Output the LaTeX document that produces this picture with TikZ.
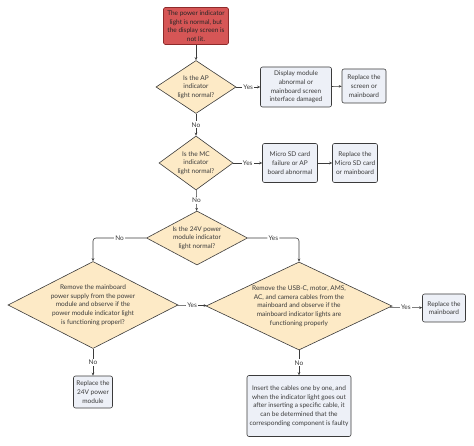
\documentclass[tikz,border=0pt]{standalone}
\usepackage{fontspec}
\setmainfont{Lato}
\usetikzlibrary{shapes.geometric,arrows.meta}
\definecolor{startfill}{HTML}{D65656}
\definecolor{startline}{HTML}{8E2A2A}
\definecolor{askfill}{HTML}{FDEAC6}
\definecolor{dofill}{HTML}{EDF0F7}
\definecolor{ink}{HTML}{3B3B3B}
\begin{document}
\begin{tikzpicture}[x=1pt, y=-1pt, font=\fontsize{6.5}{8.7}\selectfont, text=ink,
    start/.style={draw=startline, fill=startfill, rounded corners=1.5pt, align=center, inner sep=0pt, line width=0.6pt},
    ask/.style={diamond, draw=ink, fill=askfill, align=center, inner sep=0pt, line width=0.6pt},
    todo/.style={draw=ink, fill=dofill, rounded corners=2pt, align=center, inner sep=0pt, line width=0.6pt},
    lbl/.style={fill=white, inner sep=1.2pt},
    flow/.style={draw=ink, line width=0.6pt, -{Stealth[length=3pt,width=2.6pt]}}]
        \useasboundingbox (0,0) rectangle (474,446);

        % top of the chart
        \node[start, minimum width=65, minimum height=37, text=black!85] (fault) at (196,26)
            {The power indicator\\light is normal, but\\the display screen is\\not lit.};

        % AP and MC checks
        \node[ask, minimum width=80, minimum height=53, shape aspect=1.5] (ap) at (196,87)
            {Is the AP\\indicator\\light normal?};
        \node[todo, minimum width=71, minimum height=40] (screen) at (296,87)
            {Display module\\abnormal or\\mainboard screen\\interface damaged};
        \node[todo, minimum width=44, minimum height=34] (newscreen) at (364,86)
            {Replace the\\screen or\\mainboard};

        \node[ask, minimum width=74, minimum height=54, shape aspect=1.37] (mc) at (196,163)
            {Is the MC\\indicator\\light normal?};
        \node[todo, minimum width=55, minimum height=39] (sdcard) at (290,163)
            {Micro SD card\\failure or AP\\board abnormal};
        \node[todo, minimum width=45, minimum height=39] (newsd) at (355,163)
            {Replace the\\Micro SD card\\or mainboard};

        % 24V module
        \node[ask, minimum width=101, minimum height=54, shape aspect=1.87] (psu) at (197,238)
            {Is the 24V power\\module indicator\\light normal?};
        \node[ask, minimum width=170, minimum height=87, shape aspect=1.95] (unplug) at (93,305)
            {Remove the mainboard\\power supply from the power\\module and observe if the\\power module indicator light\\is functioning properl?};
        \node[ask, minimum width=186, minimum height=88, shape aspect=2.11] (cables) at (299,306)
            {Remove the USB-C, motor, AMS,\\AC, and camera cables from the\\mainboard and observe if the\\mainboard indicator lights are\\functioning properly};
        \node[todo, minimum width=43, minimum height=28] (newboard) at (444,308)
            {Replace the\\mainboard};
        \node[todo, minimum width=39, minimum height=32] (newpsu) at (93,392)
            {Replace the\\24V power\\module};
        \node[todo, minimum width=104, minimum height=61] (oneby) at (299,406)
            {Insert the cables one by one, and\\when the indicator light goes out\\after inserting a specific cable, it\\can be determined that the\\corresponding component is faulty};

        % connectors
        \draw[flow] (fault) -- (ap);
        \draw[flow] (ap) -- node[lbl] {Yes} (screen);
        \draw[flow] (screen) -- (newscreen);
        \draw[flow] (ap) -- node[lbl] {No} (mc);
        \draw[flow] (mc) -- node[lbl] {Yes} (sdcard);
        \draw[flow] (sdcard) -- (newsd);
        \draw[flow] (mc) -- node[lbl] {No} (psu);
        \draw[flow, rounded corners=3pt] (psu.west) -| node[lbl, pos=0.25] {No} (unplug.north);
        \draw[flow, rounded corners=3pt] (psu.east) -| node[lbl, pos=0.25] {Yes} (cables.north);
        \draw[flow] (unplug) -- node[lbl] {Yes} (cables);
        \draw[flow] (cables) -- node[lbl] {Yes} (newboard);
        \draw[flow] (unplug) -- node[lbl] {No} (newpsu);
        \draw[flow] (cables) -- node[lbl] {No} (oneby);
\end{tikzpicture}
\end{document}
